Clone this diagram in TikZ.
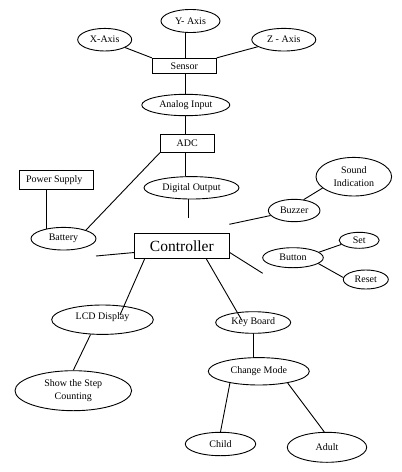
\documentclass[tikz,border=0pt]{standalone}
\usepackage{fontspec}
\setmainfont{Liberation Serif}
\usetikzlibrary{shapes.geometric,calc}
\begin{document}
\begin{tikzpicture}[x=1pt,y=-1pt,
  every node/.style={font=\fontsize{10}{12.3}\selectfont, inner sep=0pt},
  ell/.style={draw, ellipse, line width=0.9pt, align=center},
  box/.style={draw, rectangle, line width=0.9pt, align=center},
  conn/.style={line width=0.9pt}]
\useasboundingbox (0,0) rectangle (402,472);
\fill[white] (0,0) rectangle (402,472);
% nodes
\node[ell, minimum width=59pt, minimum height=23pt] (Y) at (190.5,21) {Y- Axis};
\node[ell, minimum width=54pt, minimum height=22.6pt] (X) at (104.7,39.7) {X-Axis};
\node[ell, minimum width=64pt, minimum height=22.6pt] (Z) at (283.8,39.7) {Z - Axis};
\node[box, minimum width=64pt, minimum height=15pt] (Sensor) at (184.3,65.8) {Sensor};
\node[ell, minimum width=88pt, minimum height=21.4pt] (Analog) at (185.8,105) {Analog Input};
\node[box, minimum width=54pt, minimum height=18pt] (ADC) at (187.3,143.3) {ADC};
\node[box, minimum width=74pt, minimum height=18.6pt] (PS) at (56.3,180) {Power Supply\hspace{4pt}};
\node[ell, minimum width=65pt, minimum height=22.6pt] (Battery) at (63.5,238.7) {Battery};
\node[ell, minimum width=95pt, minimum height=22.4pt] (DO) at (191.5,187.8) {Digital Output};
\node[box, minimum width=95pt, minimum height=25pt, font=\fontsize{15.5}{18}\selectfont] (Controller) at (181.8,245.8) {Controller};
\node[ell, minimum width=75.6pt, minimum height=38.6pt] (Sound) at (353.8,176.7) {Sound\\Indication};
\node[ell, minimum width=51.6pt, minimum height=22.4pt] (Buzzer) at (294.2,210.5) {Buzzer};
\node[ell, minimum width=60.6pt, minimum height=20pt] (Button) at (293,257.7) {Button};
\node[ell, minimum width=40pt, minimum height=16pt] (Set) at (359.2,240.3) {Set};
\node[ell, minimum width=45pt, minimum height=19pt] (Reset) at (365.8,279.5) {Reset};
\node[ell, minimum width=101.6pt, minimum height=29.4pt] (LCD) at (102.5,319.7) {\raisebox{8pt}{LCD Display}};
\node[ell, minimum width=116.6pt, minimum height=40pt] (Show) at (73.3,390.7) {Show the Step\\Counting};
\node[ell, minimum width=75pt, minimum height=21.6pt] (KB) at (253.2,322.5) {Key Board};
\node[ell, minimum width=101pt, minimum height=27.4pt] (CM) at (258.8,371.3) {Change Mode};
\node[ell, minimum width=70.4pt, minimum height=23.4pt] (Child) at (220.5,444) {Child};
\node[ell, minimum width=79.4pt, minimum height=30pt] (Adult) at (327,447.3) {Adult};
% free ends
\coordinate (spine) at (185.3,0);
\coordinate (dofree) at (188.7,218.3);
\coordinate (ctlleft) at (96,256);
\coordinate (ctlright) at (262.7,273.3);
\coordinate (bzfree) at (229.3,224.3);
\coordinate (lcdend) at ($(LCD)+(17.5,-4.7)$);
\coordinate (kbend) at ($(KB)+(-11.5,-2.5)$);
% connectors
\draw[conn] (X) -- (Sensor.north west);
\draw[conn] (Z) -- (Sensor.north east);
\draw[conn] (spine |- Y.south) -- (spine |- Sensor.north);
\draw[conn] (spine |- Sensor.south) -- (spine |- Analog.north);
\draw[conn] (spine |- Analog.south) -- (spine |- ADC.north);
\draw[conn] (spine |- ADC.south) -- (spine |- DO.north);
\draw[conn] (ADC.south west) -- (Battery.21);
\draw[conn] (Battery.150) -- (Battery.150 |- PS.south);
\draw[conn] (dofree |- DO.south) -- (dofree);
\draw[conn] (Controller.188) -- (ctlleft);
\draw[conn] (Controller.352) -- (ctlright);
\draw[conn] (bzfree) -- (Buzzer);
\draw[conn] (Buzzer.49) -- (Sound.200);
\draw[conn] (Button.12) -- (Set.193);
\draw[conn] (Button.347) -- (Reset.175);
\draw[conn] ($(Controller.south west)!0.113!(Controller.south east)$) -- (lcdend);
\draw[conn] ($(Controller.south west)!0.755!(Controller.south east)$) -- (kbend);
\draw[conn] (LCD.231) -- (Show.north);
\draw[conn] (KB.south) -- (KB.south |- CM.north);
\draw[conn] (CM.202) -- (Child.north);
\draw[conn] (CM.338) -- (Adult.100);
\end{tikzpicture}
\end{document}
